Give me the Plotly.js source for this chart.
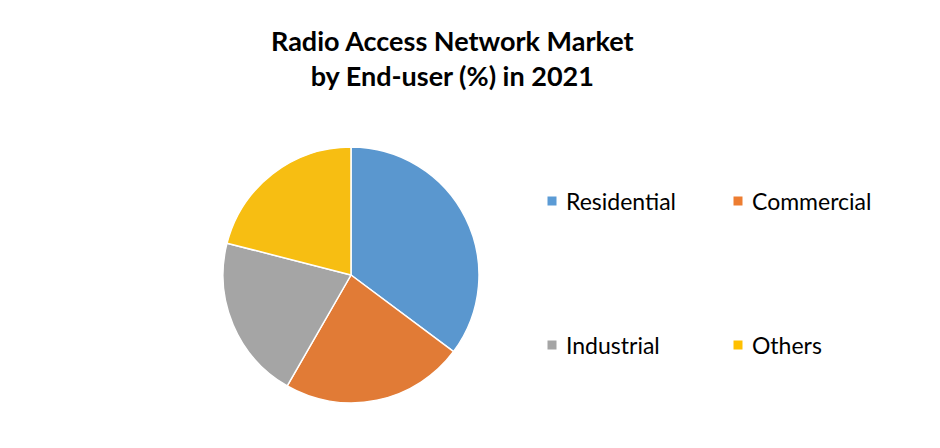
<!DOCTYPE html>
<html>
<head>
<meta charset="utf-8">
<script src="https://cdn.plot.ly/plotly-3.0.1.min.js"></script>
<style>html,body{margin:0;padding:0;background:#fff;}#chart{width:940px;height:448px;}</style>
</head>
<body>
<div id="chart"></div>
<script>
// Data
const labels = ["Residential", "Commercial", "Industrial", "Others"];
const shares = [35.2, 23.1, 20.7, 21.0];
const sliceColors = ["#5a97cf", "#e17b36", "#a5a5a5", "#f7be12"];
const legendColors = ["#5B9BD5", "#ED7D31", "#A5A5A5", "#FFC000"];
const titleLines = ["Radio Access Network Market", "by End-user (%) in 2021"];

const W = 940, H = 448;
const font = "Lato, 'Open Sans', sans-serif";

// Pie geometry (pixels)
const cx = 351, cy = 275, r = 128;

const trace = {
  type: "pie",
  labels: labels,
  values: shares,
  sort: false,
  direction: "clockwise",
  rotation: 0,
  marker: { colors: sliceColors, line: { color: "#ffffff", width: 1.5 } },
  textinfo: "none",
  hoverinfo: "label+percent",
  showlegend: false,
  domain: {
    x: [(cx - r) / W, (cx + r) / W],
    y: [(H - cy - r) / H, (H - cy + r) / H]
  }
};

// Custom legend: 2 columns x 2 rows
const legX = [552, 738];
const legY = [201, 345];
const sq = 9;
const shapes = [];
const annotations = [];
labels.forEach((lab, i) => {
  const col = i % 2, row = Math.floor(i / 2);
  const x = legX[col], y = legY[row];
  shapes.push({
    type: "rect", xref: "paper", yref: "paper",
    x0: (x - sq / 2) / W, x1: (x + sq / 2) / W,
    y0: (H - y - sq / 2) / H, y1: (H - y + sq / 2) / H,
    fillcolor: legendColors[i], line: { width: 0 }
  });
  annotations.push({
    xref: "paper", yref: "paper",
    x: (x + 12) / W, y: (H - y) / H,
    xanchor: "left", yanchor: "middle",
    text: lab, showarrow: false,
    font: { family: font, size: 23, color: "#000000" }
  });
});

// Title as one centered two-line text
annotations.push({
  xref: "paper", yref: "paper",
  x: 452 / W, y: (H - 58) / H,
  xanchor: "center", yanchor: "middle",
  text: titleLines.map(t => "<b>" + t + "</b>").join("<br>"),
  showarrow: false,
  font: { family: font, size: 27, color: "#000000" }
});

const layout = {
  width: W, height: H,
  margin: { l: 0, r: 0, t: 0, b: 0 },
  paper_bgcolor: "#ffffff",
  shapes: shapes,
  annotations: annotations
};

Plotly.newPlot("chart", [trace], layout, { displayModeBar: false, staticPlot: true });
</script>
</body>
</html>
